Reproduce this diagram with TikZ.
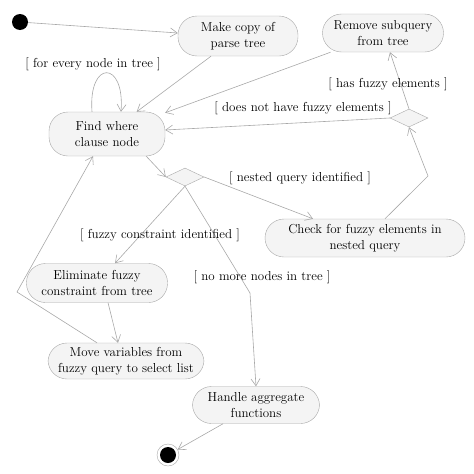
\documentclass[tikz,border=0pt]{standalone}
\usepackage{xcolor}
\usepackage{tikz}
\usetikzlibrary{positioning,shapes.geometric,arrows.meta}

\definecolor{linegray}{HTML}{A8A8A8}
\definecolor{boxgray}{HTML}{F4F4F4}

\begin{document}
\begin{tikzpicture}[x=1pt, y=-1pt,
		every node/.style={font=\fontsize{13}{16}\selectfont, text=black},
		activity/.style={draw=linegray, fill=boxgray, rounded corners=19pt, align=center, inner sep=0pt},
		decision/.style={diamond, draw=linegray, fill=boxgray, aspect=2, inner sep=0pt, minimum width=38pt, minimum height=18pt},
		flow/.style={draw=linegray, line width=0.6pt, -{Straight Barb[length=7pt,width=9pt]}},
		guard/.style={inner sep=1pt}]
	\useasboundingbox (0,0) rectangle (474,474);

	% Start + Ende
	\node[circle, fill=black, minimum size=16pt, inner sep=0pt] (start) at (20,22) {};
	\node[circle, draw=linegray, fill=white, minimum size=22pt, inner sep=0pt] (stop) at (168,455) {};
	\fill (stop) circle (8pt);

	% Aktivitaeten
	\node[activity, minimum width=120pt, minimum height=40pt] (copy) at (238,36) {Make copy of\\parse tree};
	\node[activity, minimum width=121pt, minimum height=38pt] (remove) at (383,33) {Remove subquery\\from tree};
	\node[activity, minimum width=116pt, minimum height=44pt] (find) at (107,134) {Find where\\clause node};
	\node[activity, minimum width=200pt, minimum height=38pt] (check) at (365,238) {Check for fuzzy elements in\\nested query};
	\node[activity, minimum width=141pt, minimum height=39pt] (elim) at (97,283) {Eliminate fuzzy\\constraint from tree};
	\node[activity, minimum width=156pt, minimum height=36pt] (move) at (126,361) {Move variables from\\fuzzy query to select list};
	\node[activity, minimum width=127pt, minimum height=37pt] (handle) at (256,405) {Handle aggregate\\functions};

	% Entscheidungen
	\node[decision] (nested) at (185,177) {};
	\node[decision] (fuzzy) at (409,118) {};

	% Knickpunkte
	\coordinate (bendcheck) at (428,176);
	\coordinate (bendnomore) at (250,293);
	\coordinate (bendmove) at (17,292);

	% Kanten
	\draw[flow] (start) -- ([yshift=3pt]copy.west);
	\draw[flow] (copy) -- (find);
	\draw[flow] (remove) -- (find);
	\draw[flow] (fuzzy.west) -- ([yshift=4pt]find.east);
	\draw[flow] ([xshift=-15pt]find.north) .. controls +(-4,-52) and +(4,-52) .. ([xshift=14pt]find.north);
	\draw[flow] ([xshift=-19pt]find.south east) -- (nested.west);
	\draw[flow] (nested.east) -- ([xshift=-52pt]check.north);
	\draw[flow] ([xshift=20pt]check.north) -- (bendcheck) -- (fuzzy.south);
	\draw[flow] (fuzzy.north) -- ([xshift=7pt]remove.south);
	\draw[flow] (nested.south) -- ([xshift=18pt]elim.north);
	\draw[flow] (nested.south) -- (bendnomore) -- (handle.north);
	\draw[flow] ([xshift=11pt]elim.south) -- ([xshift=-8pt]move.north);
	\draw[flow] ([xshift=-29pt]move.north) -- (bendmove) -- ([xshift=-14pt]find.south);
	\draw[flow] (handle) -- (stop);

	% Bedingungen
	\node[guard] (gevery) at (93,64) {[ for every node in tree ]};
	\node[guard] (ghas) at (388,84) {[ has fuzzy elements ]};
	\node[guard] (gnot) at (303,108) {[ does not have fuzzy elements ]};
	\node[guard] (gnested) at (300,178) {[ nested query identified ]};
	\node[guard] (gconstr) at (160,235) {[ fuzzy constraint identified ]};
	\node[guard] (gnomore) at (262,277) {[ no more nodes in tree ]};
\end{tikzpicture}
\end{document}
